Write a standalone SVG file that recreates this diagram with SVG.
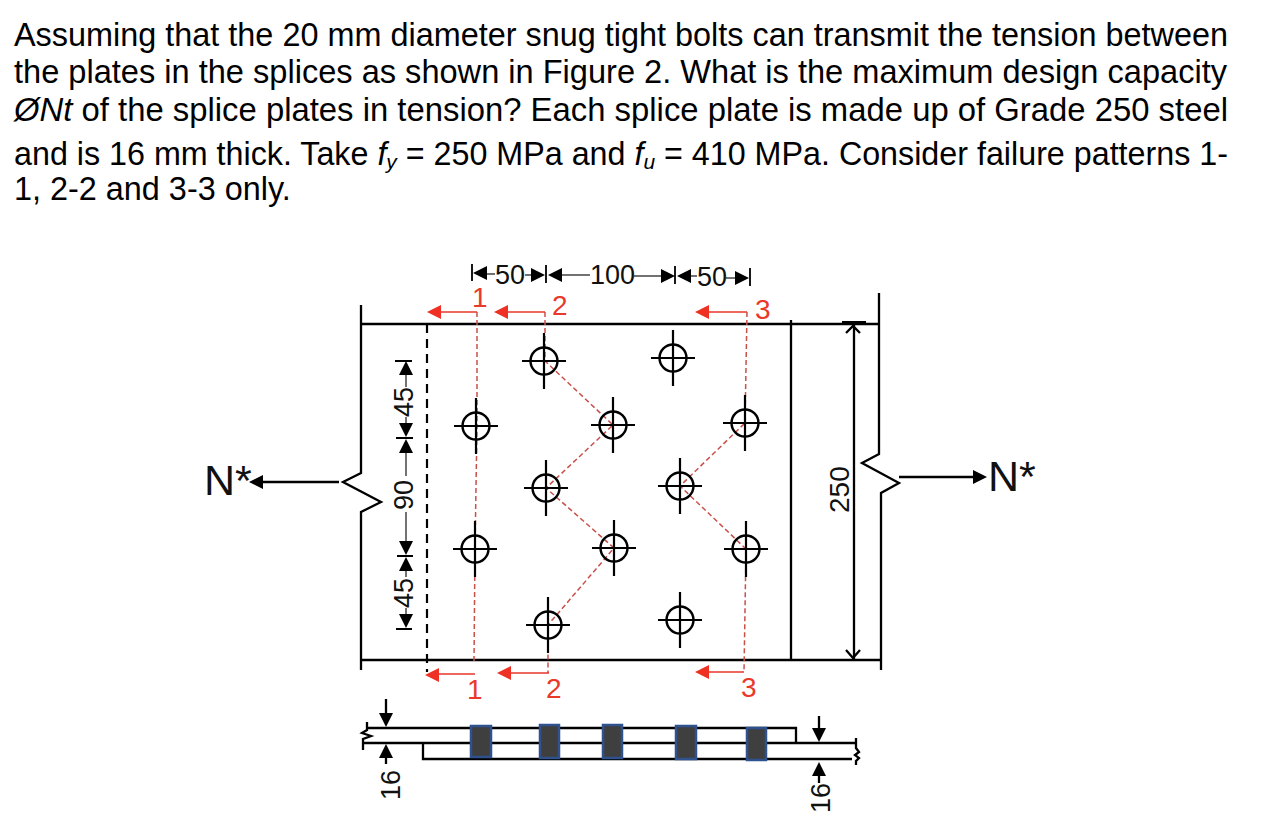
<svg xmlns="http://www.w3.org/2000/svg" width="1274" height="822" viewBox="0 0 1274 822">
<style>
text{font-family:"Liberation Sans",Arial,sans-serif}
.q{font-size:32.4px;fill:#000}
.i{font-style:italic}
.d{font-size:27px;fill:#111}
.r{font-size:28px;fill:#e8392b}
.f{font-size:43px;fill:#111}
.k{fill:none;stroke:#000;stroke-width:2.3}
.t{fill:none;stroke:#000;stroke-width:1.8}
.g{fill:none;stroke:#444;stroke-width:1.5}
.c{fill:none;stroke:#c9504a;stroke-width:1.5;stroke-dasharray:5 3}
.h{fill:none;stroke:#e8392b;stroke-width:1.6}
.b{fill:#3f3f3f;stroke:#2f528f;stroke-width:2.5}
</style>
<defs>
<g id="hole"><circle r="13.5" fill="none" stroke="#000" stroke-width="2.4"/><path d="M-22 0H22M0-28V28" stroke="#000" stroke-width="2.2" fill="none"/></g>
<path id="ah" d="M0 0L14 -7V7Z" fill="#000"/>
<path id="rh" d="M0 0L14 -7V7Z" fill="#ee3124"/>
</defs>
<g id="question">
<text class="q" x="14" y="46" textLength="1214" lengthAdjust="spacingAndGlyphs">Assuming that the 20 mm diameter snug tight bolts can transmit the tension between</text>
<text class="q" x="14" y="83" textLength="1213" lengthAdjust="spacingAndGlyphs">the plates in the splices as shown in Figure 2. What is the maximum design capacity</text>
<text class="q" x="14" y="121" textLength="1214" lengthAdjust="spacingAndGlyphs"><tspan class="i">ØNt</tspan> of the splice plates in tension? Each splice plate is made up of Grade 250 steel</text>
<text class="q" x="14" y="165" textLength="1214" lengthAdjust="spacingAndGlyphs">and is 16 mm thick. Take <tspan class="i">f</tspan><tspan class="i" font-size="21" dy="4">y</tspan><tspan dy="-4"> = 250 MPa and </tspan><tspan class="i">f</tspan><tspan class="i" font-size="21" dy="4">u</tspan><tspan dy="-4"> = 410 MPa. Consider failure patterns 1-</tspan></text>
<text class="q" x="14" y="200">1, 2-2 and 3-3 only.</text>
</g>
<g id="plate">
<path class="k" d="M361 305V473L343 482L381 502L361 512V670"/>
<path class="k" d="M361 324H880M361 660H880M791 320V660"/>
<path class="k" d="M879 293V454L862 463L899 483L881 493V670"/>
<path d="M427 324V672" fill="none" stroke="#000" stroke-width="2.2" stroke-dasharray="9 6"/>
</g>
<g id="failure-lines">
<path class="c" d="M477 312V426L475 549L474 662"/>
<path class="c" d="M545 312V361L613 425L546 488L614 548L548 625V673"/>
<path class="c" d="M747 312L745 423L680 486L746 549L744 672"/>
</g>
<g id="holes">
<use href="#hole" x="544" y="361"/><use href="#hole" x="673" y="358"/>
<use href="#hole" x="476" y="426"/><use href="#hole" x="613" y="425"/><use href="#hole" x="745" y="423"/>
<use href="#hole" x="546" y="488"/><use href="#hole" x="680" y="486"/>
<use href="#hole" x="475" y="549"/><use href="#hole" x="614" y="548"/><use href="#hole" x="746" y="549"/>
<use href="#hole" x="548" y="625"/><use href="#hole" x="680" y="620"/>
</g>
<g id="section-marks">
<path class="h" d="M477 312H440M545 312H506M747 312H708M475 674H438M549 673H510M744 672H708"/>
<use href="#rh" x="427" y="312"/><use href="#rh" x="494" y="312"/><use href="#rh" x="695" y="312"/>
<use href="#rh" x="425" y="675"/><use href="#rh" x="497" y="673"/><use href="#rh" x="695" y="672"/>
<text class="r" x="472" y="307">1</text><text class="r" x="552" y="315">2</text><text class="r" x="755" y="319">3</text>
<text class="r" x="467" y="699">1</text><text class="r" x="546" y="698">2</text><text class="r" x="741" y="697">3</text>
</g>
<g id="dimensions">
<path class="t" d="M472 264V281M546 265V283M675 266V284M750 268V286"/>
<path class="g" d="M485 274H495M525 275H533M560 275H590M634 276H661M690 276H697M726 278H735"/>
<use href="#ah" x="473" y="273"/><use href="#ah" x="545" y="275" transform="rotate(180 545 275)"/>
<use href="#ah" x="548" y="275"/><use href="#ah" x="675" y="276" transform="rotate(180 675 276)"/><use href="#ah" x="677" y="276"/>
<use href="#ah" x="749" y="278" transform="rotate(180 749 278)"/>
<text class="d" x="495" y="284">50</text><text class="d" x="590" y="284">100</text><text class="d" x="697" y="286">50</text>
<path class="t" d="M395 361H412M396 438H413M397 556H413M396 629H412"/>
<path class="g" d="M406 372V387M406 417V425M406 450V476M406 512V541M406 570V577M406 608V615"/>
<use href="#ah" x="406" y="361" transform="rotate(90 406 361)"/><use href="#ah" x="406" y="437" transform="rotate(-90 406 437)"/>
<use href="#ah" x="406" y="439" transform="rotate(90 406 439)"/><use href="#ah" x="406" y="555" transform="rotate(-90 406 555)"/>
<use href="#ah" x="406" y="557" transform="rotate(90 406 557)"/><use href="#ah" x="406" y="628" transform="rotate(-90 406 628)"/>
<text class="d" transform="translate(413 417) rotate(-90)">45</text>
<text class="d" transform="translate(413 510) rotate(-90)">90</text>
<text class="d" transform="translate(413 608) rotate(-90)">45</text>
<path d="M842 323H866" stroke="#000" stroke-width="4"/>
<path class="k" d="M854 324V660M846 333L853 326L860 333M846 650L853 658L860 650"/>
<text class="d" font-size="28" style="font-size:28px" transform="translate(849 513) rotate(-90)">250</text>
</g>
<g id="forces">
<path class="k" d="M262 482H339"/><use href="#ah" x="249" y="482"/>
<path class="k" d="M899 477H975"/><use href="#ah" x="987" y="477" transform="rotate(180 987 477)"/>
<text class="f" x="204" y="495">N*</text>
<text class="f" x="988" y="491">N*</text>
</g>
<g id="section">
<path class="k" d="M367 728H796V743M364 743H855M423 743V759H852"/>
<rect class="b" x="471" y="726" width="20" height="31"/><rect class="b" x="540" y="725" width="19" height="33"/><rect class="b" x="603" y="725" width="19" height="33"/><rect class="b" x="676" y="726" width="20" height="33"/><rect class="b" x="747" y="728" width="19" height="32"/>
<path class="k" d="M367 722V730L362 733L371 736L363 739V750M856 738V748L859 752L855 755L859 758L856 761V765"/>
<path class="k" d="M386 699V714M386 756V764M819 716V731M819 775V783"/>
<use href="#ah" x="386" y="727" transform="rotate(-90 386 727)"/><use href="#ah" x="386" y="744" transform="rotate(90 386 744)"/>
<use href="#ah" x="819" y="742" transform="rotate(-90 819 742)"/><use href="#ah" x="819" y="762" transform="rotate(90 819 762)"/>
<text class="d" transform="translate(400 800) rotate(-90)">16</text>
<text class="d" transform="translate(830 813) rotate(-90)">16</text>
</g>
</svg>
